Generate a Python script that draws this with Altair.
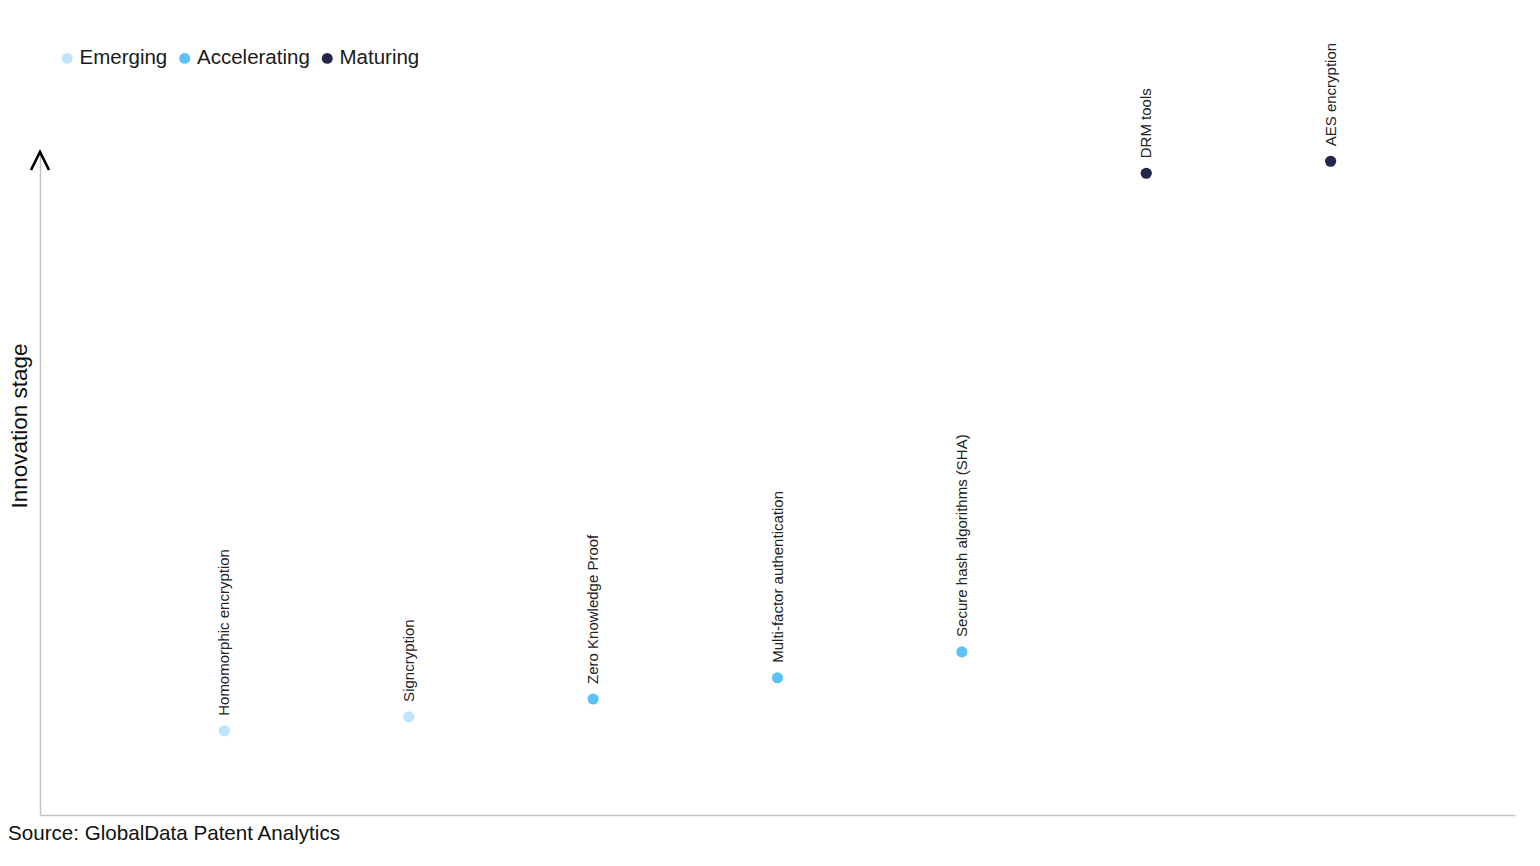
import altair as alt
import pandas as pd

names = ["Homomorphic encryption", "Signcryption", "Zero Knowledge Proof",
         "Multi-factor authentication", "Secure hash algorithms (SHA)",
         "DRM tools", "AES encryption"]
positions = [1, 2, 3, 4, 5, 6, 7]
stages = ["Emerging", "Emerging", "Accelerating", "Accelerating",
          "Accelerating", "Maturing", "Maturing"]
innovation = [12.7, 14.8, 17.5, 20.7, 24.6, 96.8, 98.6]

stage_order = ["Emerging", "Accelerating", "Maturing"]
stage_colors = ["#BEE6FA", "#5BC2F7", "#25264B"]

FONT = "Liberation Sans"
W, H = 1475, 663

df = pd.DataFrame({"name": names, "pos": positions, "stage": stages, "y": innovation})

xs = alt.Scale(domain=[0, 8], nice=False)
ys = alt.Scale(domain=[0, 100], nice=False)

base = alt.Chart(df)

points = base.mark_circle(size=125, opacity=1).encode(
    x=alt.X("pos:Q", scale=xs,
            axis=alt.Axis(title=None, labels=False, ticks=False, grid=False,
                          domainColor="#c4c4c4", domainWidth=1.5)),
    y=alt.Y("y:Q", scale=ys,
            axis=alt.Axis(title=None, labels=False, ticks=False, grid=False,
                          domainColor="#c4c4c4", domainWidth=1.5)),
    color=alt.Color("stage:N",
                    scale=alt.Scale(domain=stage_order, range=stage_colors),
                    legend=alt.Legend(title=None, orient="none", direction="horizontal",
                                      legendX=17, legendY=-104,
                                      symbolType="circle", symbolSize=120,
                                      symbolStrokeWidth=0,
                                      labelFont=FONT, labelFontSize=20.5,
                                      labelColor="#1a1a1a", labelOffset=2,
                                      columnPadding=6.5, padding=0)),
)

labels = base.mark_text(angle=270, align="left", baseline="middle", dx=15,
                        font=FONT, fontSize=15, color="#222222").encode(
    x=alt.X("pos:Q", scale=xs),
    y=alt.Y("y:Q", scale=ys),
    text="name:N",
)

arrow_df = pd.DataFrame({"pos": [0], "y": [100]})
arrow = alt.Chart(arrow_df).mark_point(
    shape="M-1,1 L0,-1 L1,1", size=324, filled=False, stroke="#000000",
    strokeWidth=2.6, opacity=1, yOffset=9
).encode(
    x=alt.X("pos:Q", scale=xs),
    y=alt.Y("y:Q", scale=ys),
)

ytitle = alt.Chart(pd.DataFrame({"t": ["Innovation stage"]})).mark_text(
    angle=270, align="center", baseline="middle", font=FONT, fontSize=22.5,
    color="#111111"
).encode(text="t:N", x=alt.value(-20), y=alt.value(274))

source = alt.Chart(pd.DataFrame({"t": ["Source: GlobalData Patent Analytics"]})).mark_text(
    align="left", baseline="middle", font=FONT, fontSize=20.6, color="#111111"
).encode(text="t:N", x=alt.value(-32), y=alt.value(682))

chart = alt.layer(points, labels, arrow, ytitle, source).properties(
    width=W, height=H,
    background="white",
    autosize=alt.AutoSizeParams(type="none"),
    padding={"left": 32, "top": 144, "right": 10, "bottom": 40},
).configure_view(strokeWidth=0, stroke="transparent")

chart.save("out.html", embed_options={"renderer": "svg", "actions": False})
